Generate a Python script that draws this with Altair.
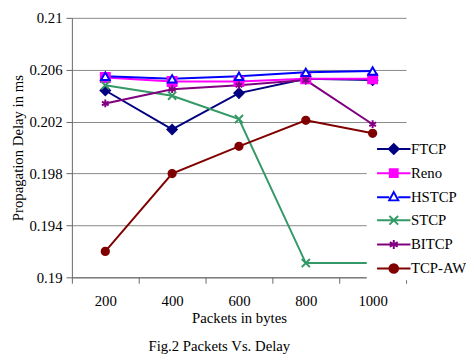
import altair as alt
import pandas as pd

packets = [200, 400, 600, 800, 1000]
series_names = ["FTCP", "Reno", "HSTCP", "STCP", "BITCP", "TCP-AW"]
ftcp = [0.2044, 0.2014, 0.2042, 0.2053, 0.2052]
reno = [0.2054, 0.2051, 0.2051, 0.2053, 0.2053]
hstcp = [0.2055, 0.2053, 0.2055, 0.2058, 0.2059]
stcp = [0.2048, 0.2040, 0.2022, 0.1911, 0.1911]
bitcp = [0.2034, 0.2045, 0.2048, 0.2052, 0.2018]
tcpaw = [0.1920, 0.1980, 0.2001, 0.2021, 0.2011]
y_ticks = [0.19, 0.194, 0.198, 0.202, 0.206, 0.21]
x_ticks = [100, 200, 300, 400, 500, 600, 700, 800, 900, 1000, 1100]

all_vals = [ftcp, reno, hstcp, stcp, bitcp, tcpaw]
rows = []
for name, vals in zip(series_names, all_vals):
    for p, v in zip(packets, vals):
        rows.append({"Packets": p, "Delay": v, "Series": name})
df = pd.DataFrame(rows)

colors = ["#000080", "#FF00FF", "#0000FF", "#339966", "#800080", "#800000"]
fills = ["#000080", "#FF00FF", "#FFFFFF", "#339966", "#800080", "#800000"]
line_widths = [2, 2, 2, 3.5, 2, 2]

X_PATH = "M-1,-1L1,1M-1,1L1,-1"
AST_PATH = "M0,-1L0,1M-0.87,-0.5L0.87,0.5M-0.87,0.5L0.87,-0.5"
point_shapes = ["diamond", "square", "triangle-up", X_PATH, AST_PATH, "circle"]
point_sizes = [90, 55, 90, 190, 110, 80]

# legend symbols: line + marker, unit = 2px (symbol size 16)
def seg(gap):
    return f"M0,0H{8.5 - gap}M{8.5 + gap},0H17"
legend_paths = [
    seg(2.5) + "M6,0L8.5,-2.5L11,0L8.5,2.5Z",
    seg(2) + "M6.5,-2H10.5V2H6.5Z",
    seg(2.3) + "M8.5,-2.6L10.8,1.6H6.2Z",
    "M0,0H17M6.3,-2.2L10.7,2.2M6.3,2.2L10.7,-2.2",
    "M0,0H17M8.5,-2.3V2.3M6.5,-1.2L10.5,1.2M6.5,1.2L10.5,-1.2",
    seg(2.2) + "M6.3,0A2.2,2.2 0 1,0 10.7,0A2.2,2.2 0 1,0 6.3,0Z",
]

FONT = "Liberation Serif, serif"

x_enc = alt.X(
    "Packets:Q",
    scale=alt.Scale(domain=[100, 1100], nice=False, zero=False),
    axis=alt.Axis(
        values=x_ticks,
        format="d",
        title="Packets in bytes",
        labelExpr="datum.value % 200 == 0 ? datum.label : ''",
        labelOverlap=False,
        tickOpacity={"condition": {"test": "datum.value % 200 == 100", "value": 1}, "value": 0},
        grid=False,
        tickSize=6,
        labelPadding=11,
        titlePadding=2,
        labelFont=FONT,
        titleFont=FONT,
    ),
)
y_enc = alt.Y(
    "Delay:Q",
    scale=alt.Scale(domain=[0.19, 0.21], nice=False, zero=False),
    axis=alt.Axis(
        values=y_ticks,
        format=".3~f",
        title="Propagation Delay in ms",
        grid=True,
        tickSize=6,
        labelPadding=4,
        titlePadding=3,
        labelFont=FONT,
        titleFont=FONT,
    ),
)

base = alt.Chart(df)

sw = alt.StrokeWidth("Series:N", scale=alt.Scale(domain=series_names, range=line_widths), legend=None)

lines = base.mark_line().encode(
    x=x_enc,
    y=y_enc,
    stroke=alt.Stroke("Series:N", scale=alt.Scale(domain=series_names, range=colors), legend=None),
    strokeWidth=sw,
    detail="Series:N",
)

points = base.mark_point(opacity=1).encode(
    x=x_enc,
    y=y_enc,
    shape=alt.Shape("Series:N", scale=alt.Scale(domain=series_names, range=point_shapes), legend=None),
    stroke=alt.Stroke("Series:N", scale=alt.Scale(domain=series_names, range=colors), legend=None),
    fill=alt.Fill("Series:N", scale=alt.Scale(domain=series_names, range=fills), legend=None),
    size=alt.Size("Series:N", scale=alt.Scale(domain=series_names, range=point_sizes), legend=None),
    strokeWidth=sw,
)

leg = alt.Legend(
    title=None,
    orient="none",
    legendX=300,
    legendY=123,
    fillColor="white",
    padding=3,
    rowPadding=6.5,
    labelFont=FONT,
    labelFontSize=15,
    labelColor="black",
    labelOffset=27,
    symbolSize=16,
    symbolStrokeWidth=2,
)

legend_layer = base.transform_filter("false").mark_point(opacity=1, strokeWidth=2, size=16).encode(
    x=x_enc,
    y=y_enc,
    shape=alt.Shape("Series:N", scale=alt.Scale(domain=series_names, range=legend_paths), legend=leg),
    stroke=alt.Stroke("Series:N", scale=alt.Scale(domain=series_names, range=colors), legend=leg),
    fill=alt.Fill("Series:N", scale=alt.Scale(domain=series_names, range=fills), legend=leg),
)

chart = (
    alt.layer(lines, points, legend_layer)
    .resolve_scale(shape="independent", stroke="independent", fill="independent")
    .properties(
        width=340,
        height=264,
        autosize=alt.AutoSizeParams(type="none"),
        padding={"left": 65, "top": 7, "right": 61, "bottom": 76},
        title=alt.TitleParams(
            "Fig.2 Packets Vs. Delay",
            orient="bottom",
            font=FONT,
            fontSize=15,
            fontWeight="normal",
            color="black",
            offset=14,
            dx=-20,
        ),
    )
    .configure(
        font=FONT,
        style={"guide-label": {"font": FONT}, "guide-title": {"font": FONT}},
    )
    .configure_view(stroke=None)
    .configure_legend(labelFont=FONT)
    .configure_axis(
        labelFont=FONT,
        titleFont=FONT,
        labelFontSize=15,
        titleFontSize=15,
        titleFontWeight="normal",
        labelColor="black",
        titleColor="black",
        domainColor="#666666",
        tickColor="#666666",
        gridColor="#888888",
        gridOpacity=1,
    )
)

chart.save("out.html", embed_options={"renderer": "svg", "actions": False})
